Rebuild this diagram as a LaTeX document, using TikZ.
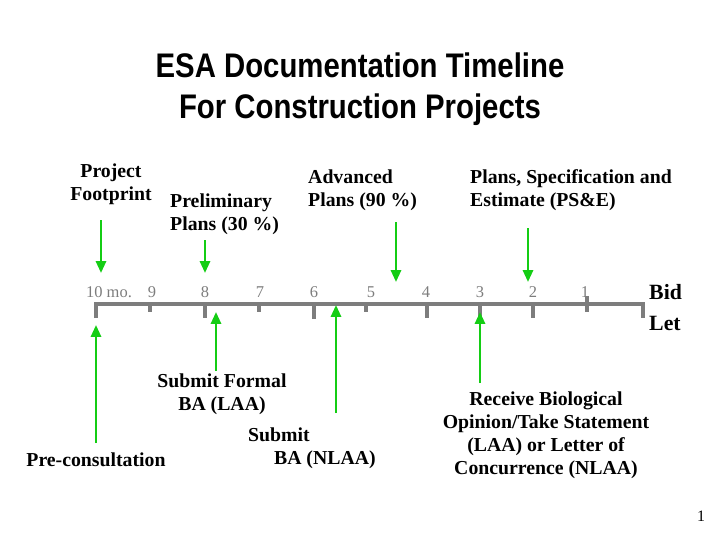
\documentclass[tikz,border=0pt]{standalone}
\usepackage{fontspec}
\setmainfont{Liberation Serif}
\newfontfamily\titlefont[FakeStretch=0.86]{Liberation Sans}
\usetikzlibrary{arrows.meta}
\definecolor{ArrowGreen}{RGB}{20,205,20}
\definecolor{AxisGray}{RGB}{125,125,125}

\begin{document}
\begin{tikzpicture}[x=0.85pt, y=-0.85pt,
    txt/.style={inner sep=0, font=\bfseries\fontsize{16.8}{19.6}\selectfont},
    month/.style={inner sep=0, text=AxisGray, font=\fontsize{14}{16}\selectfont},
    axis/.style={AxisGray, line width=2.8pt},
    greenarrow/.style={ArrowGreen, line width=2.1pt, -{Triangle[width=8.5pt, length=10pt]}}]
    \useasboundingbox (0,0) rectangle (720,540);
    
    %Title
    \node[align=center, font=\titlefont\bfseries\fontsize{29}{34.5}\selectfont] (title) at (360,89)
        {ESA Documentation Timeline\\For Construction Projects};
    
    %Timeline bar
    \draw[axis] (96,318) -- (96,304) -- (643,304) -- (643,318);
    \draw[axis] (150,304) -- (150,312); %9
    \draw[axis] (205,304) -- (205,318); %8
    \draw[axis] (259,304) -- (259,312); %7
    \draw[axis] (314,304) -- (314,319); %6
    \draw[axis] (366,304) -- (366,312); %5
    \draw[axis] (427,304) -- (427,318); %4
    \draw[axis] (480,304) -- (480,318); %3
    \draw[axis] (533,304) -- (533,318); %2
    \draw[axis] (587,296) -- (587,312); %1
    
    %Months
    \node[month] (m10) at (109,292) {10 mo.};
    \node[month] (m9) at (152,292) {9};
    \node[month] (m8) at (205,292) {8};
    \node[month] (m7) at (260,292) {7};
    \node[month] (m6) at (314,292) {6};
    \node[month] (m5) at (371,292) {5};
    \node[month] (m4) at (426,292) {4};
    \node[month] (m3) at (480,292) {3};
    \node[month] (m2) at (533,292) {2};
    \node[month] (m1) at (585,292) {1};
    
    \node[inner sep=0, anchor=west, font=\bfseries\fontsize{18.5}{21}\selectfont] (bid) at (649,292) {Bid};
    \node[inner sep=0, anchor=west, font=\bfseries\fontsize{18.5}{21}\selectfont] (let) at (649,323) {Let};
    
    %Text above
    \node[txt, align=center] (foot) at (111,184) {Project\\Footprint};
    \node[txt, align=left, anchor=west] (prelim) at (170,214) {Preliminary\\Plans (30 \%)};
    \node[txt, align=left, anchor=west] (adv) at (308,190) {Advanced\\Plans (90 \%)};
    \node[txt, align=left, anchor=west] (pse) at (470,190) {Plans, Specification and\\Estimate (PS\&E)};
    
    %Text below
    \node[txt, align=center] (pre) at (96,460) {Pre-consultation};
    \node[txt, align=center] (formal) at (222,394) {Submit Formal\\BA (LAA)};
    \node[txt, align=left, anchor=west] (nlaa) at (248,448) {Submit\\\hspace{22pt}BA (NLAA)};
    \node[txt, align=center] (bio) at (546,435)
        {Receive Biological\\Opinion/Take Statement\\(LAA) or Letter of\\Concurrence (NLAA)};
    
    %Arrow ends
    \coordinate (footA) at (101,220); \coordinate (footB) at (101,273);
    \coordinate (prelimA) at (205,240); \coordinate (prelimB) at (205,273);
    \coordinate (advA) at (396,222); \coordinate (advB) at (396,282);
    \coordinate (pseA) at (528,228); \coordinate (pseB) at (528,282);
    \coordinate (preA) at (96,443); \coordinate (preB) at (96,325);
    \coordinate (formalA) at (216,371); \coordinate (formalB) at (216,312);
    \coordinate (nlaaA) at (336,413); \coordinate (nlaaB) at (336,305);
    \coordinate (bioA) at (480,383); \coordinate (bioB) at (480,312);
    
    %Arrows
    \draw[greenarrow] (footA) -- (footB);
    \draw[greenarrow] (prelimA) -- (prelimB);
    \draw[greenarrow] (advA) -- (advB);
    \draw[greenarrow] (pseA) -- (pseB);
    \draw[greenarrow] (preA) -- (preB);
    \draw[greenarrow] (formalA) -- (formalB);
    \draw[greenarrow] (nlaaA) -- (nlaaB);
    \draw[greenarrow] (bioA) -- (bioB);
    
    %Page number
    \node[inner sep=0, font=\fontsize{13.5}{15}\selectfont] (page) at (701,516) {1};
\end{tikzpicture}
\end{document}
